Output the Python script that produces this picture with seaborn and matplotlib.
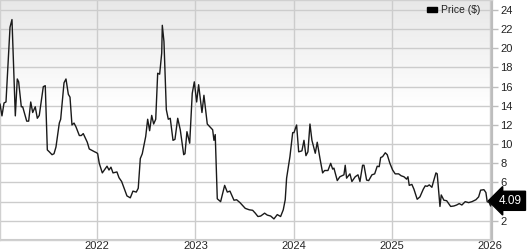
import numpy as np
import pandas as pd
import matplotlib
matplotlib.use("Agg")
import matplotlib.pyplot as plt
from matplotlib.patches import Patch
from matplotlib.colors import LinearSegmentedColormap
import seaborn as sns

years = [
    2021.009, 2021.029, 2021.050, 2021.070, 2021.111, 2021.131, 2021.165, 2021.185, 2021.199, 2021.226,
    2021.240, 2021.281, 2021.301, 2021.322, 2021.342, 2021.368, 2021.389, 2021.409, 2021.450, 2021.470,
    2021.491, 2021.511, 2021.539, 2021.559, 2021.579, 2021.613, 2021.627, 2021.661, 2021.681, 2021.705,
    2021.722, 2021.742, 2021.763, 2021.783, 2021.817, 2021.837, 2021.857, 2021.898, 2021.918, 2021.973,
    2021.994, 2022.004, 2022.020, 2022.051, 2022.099, 2022.119, 2022.139, 2022.160, 2022.200, 2022.221,
    2022.248, 2022.302, 2022.336, 2022.363, 2022.397, 2022.417, 2022.438, 2022.458, 2022.493, 2022.513,
    2022.533, 2022.554, 2022.574, 2022.595, 2022.615, 2022.635, 2022.656, 2022.662, 2022.679, 2022.703,
    2022.723, 2022.743, 2022.771, 2022.791, 2022.819, 2022.845, 2022.880, 2022.893, 2022.913, 2022.941,
    2022.967, 2022.988, 2023.012, 2023.032, 2023.066, 2023.086, 2023.120, 2023.147, 2023.175, 2023.188,
    2023.201, 2023.222, 2023.256, 2023.297, 2023.324, 2023.351, 2023.392, 2023.419, 2023.453, 2023.507,
    2023.548, 2023.582, 2023.609, 2023.636, 2023.664, 2023.704, 2023.731, 2023.766, 2023.799, 2023.833,
    2023.867, 2023.894, 2023.914, 2023.928, 2023.962, 2023.990, 2024.003, 2024.030, 2024.051, 2024.084,
    2024.105, 2024.125, 2024.145, 2024.166, 2024.186, 2024.220, 2024.240, 2024.268, 2024.295, 2024.315,
    2024.349, 2024.377, 2024.397, 2024.410, 2024.444, 2024.471, 2024.512, 2024.525, 2024.539, 2024.573,
    2024.593, 2024.627, 2024.655, 2024.675, 2024.702, 2024.716, 2024.743, 2024.764, 2024.797, 2024.825,
    2024.851, 2024.871, 2024.886, 2024.906, 2024.933, 2024.953, 2024.980, 2025.008, 2025.034, 2025.069,
    2025.095, 2025.123, 2025.150, 2025.164, 2025.177, 2025.204, 2025.225, 2025.258, 2025.286, 2025.320,
    2025.340, 2025.360, 2025.381, 2025.408, 2025.421, 2025.449, 2025.462, 2025.490, 2025.503, 2025.530,
    2025.558, 2025.599, 2025.632, 2025.660, 2025.686, 2025.713, 2025.747, 2025.782, 2025.816, 2025.856,
    2025.884, 2025.904, 2025.938, 2025.958, 2025.971, 2025.992, 2026.006, 2026.020,
]

price = [
    14.2, 12.95, 14.3, 14.4, 22.2, 23.0, 12.95, 16.8, 16.5, 13.9,
    13.9, 12.4, 12.4, 14.4, 13.3, 13.9, 12.7, 13.0, 16.0, 16.1,
    9.4, 9.2, 8.9, 9.0, 9.7, 12.2, 12.6, 16.4, 16.8, 15.2,
    14.9, 12.0, 12.2, 11.8, 10.9, 10.9, 11.1, 10.2, 9.5, 9.2,
    9.1, 9.0, 8.0, 7.0, 7.7, 7.3, 7.6, 7.0, 7.1, 6.5,
    6.1, 4.6, 4.4, 5.1, 5.0, 5.4, 8.5, 9.0, 10.8, 12.6,
    11.4, 13.0, 12.1, 12.6, 17.4, 17.3, 19.5, 22.4, 20.7, 13.6,
    12.6, 12.7, 10.4, 10.5, 12.7, 11.5, 8.9, 9.0, 11.3, 10.1,
    15.3, 16.5, 14.4, 16.2, 13.3, 15.1, 12.1, 11.8, 11.5, 10.4,
    11.0, 4.3, 4.0, 5.7, 5.0, 5.1, 4.15, 4.2, 3.9, 3.3,
    3.15, 3.1, 2.8, 2.45, 2.5, 2.8, 2.6, 2.5, 2.2, 2.65,
    2.45, 3.15, 4.2, 6.45, 8.7, 11.2, 11.2, 12.0, 9.2, 9.3,
    10.4, 8.8, 9.2, 12.1, 10.4, 9.05, 10.2, 8.5, 7.0, 7.25,
    7.25, 8.0, 7.4, 7.5, 6.2, 6.6, 6.8, 7.8, 6.45, 6.9,
    6.1, 6.6, 6.8, 6.1, 7.8, 7.8, 6.25, 6.2, 6.8, 6.9,
    7.7, 7.65, 8.6, 8.7, 9.1, 8.9, 8.0, 7.3, 6.9, 6.9,
    6.7, 6.6, 6.35, 6.6, 5.7, 5.8, 5.3, 4.25, 4.5, 5.3,
    5.65, 5.6, 5.75, 5.5, 6.0, 7.0, 6.9, 3.5, 4.7, 4.15,
    4.1, 3.5, 3.55, 3.65, 3.8, 3.65, 4.0, 3.9, 4.0, 4.2,
    4.5, 5.2, 5.25, 4.95, 4.0, 3.9, 3.55, 4.09,
]

year_ticks = [2022, 2023, 2024, 2025, 2026]
price_ticks = [2, 4, 6, 8, 10, 12, 14, 16, 18, 20, 22, 24]
hidden_tick = 4  # covered by the last-price tag in the reference
last_label = "4.09"
legend_label = "Price ($)"

df = pd.DataFrame({"year": years, "price": price})

sns.set_style("white")
plt.rcParams["font.family"] = ["Liberation Sans", "DejaVu Sans"]

fig = plt.figure(figsize=(5.27, 2.5), dpi=100)
ax = fig.add_axes([0.0, 10 / 250, 492 / 527, 240 / 250])

# background gradient (top grey fading to white)
cmap = LinearSegmentedColormap.from_list("bg", ["#ffffff", "#e8e8e8"])
grad = np.linspace(0, 1, 256).reshape(-1, 1)
ax.imshow(grad, extent=[0, 1, 0.56, 1.0], transform=ax.transAxes, cmap=cmap,
          aspect="auto", origin="lower", zorder=0, interpolation="bicubic")

sns.lineplot(data=df, x="year", y="price", ax=ax, color="#1a1a1a",
             linewidth=1.0, zorder=3, legend=False)

ax.set_xlim(2021.009, 2026.02)
ax.set_ylim(0, 25.04)

ax.set_xticks(year_ticks)
ax.set_xticklabels([str(y) for y in year_ticks])
ax.set_yticks(price_ticks)
ax.set_yticklabels(["" if p == hidden_tick else str(p) for p in price_ticks])
ax.yaxis.tick_right()

ax.grid(True, color="#cccccc", linewidth=1.0, zorder=1)
ax.set_axisbelow(True)
ax.axhline(0, color="#cccccc", linewidth=1.5, zorder=1)

for s in ["top", "left", "bottom"]:
    ax.spines[s].set_visible(True)
    ax.spines[s].set_color("#d0d0d0")
    ax.spines[s].set_linewidth(1.0)
ax.spines["right"].set_color("#bdbdbd")
ax.spines["right"].set_linewidth(1.6)

ax.tick_params(axis="y", which="both", right=True, left=False, length=4,
               width=1, color="#bdbdbd", labelsize=8, pad=2, labelcolor="#222222")
ax.tick_params(axis="x", which="both", bottom=False, length=0,
               labelsize=8, pad=0.5, labelcolor="#222222")
ax.set_xlabel("")
ax.set_ylabel("")

# last price tag
ax.annotate(last_label, xy=(1.0, price[-1]), xycoords=("axes fraction", "data"),
            xytext=(5, 0), textcoords="offset points", ha="left", va="center",
            fontsize=8.5, color="white",
            bbox=dict(boxstyle="larrow,pad=0.3", fc="black", ec="black"),
            annotation_clip=False, zorder=5)

# legend
handle = Patch(facecolor="black", edgecolor="black")
leg = ax.legend([handle], [legend_label], loc="upper right",
                bbox_to_anchor=(0.99, 1.005), frameon=False, fontsize=7.5,
                handlelength=1.0, handleheight=0.45, handletextpad=0.4,
                borderaxespad=0.2)
for t in leg.get_texts():
    t.set_color("#222222")

fig.savefig("out.png", dpi=100)
